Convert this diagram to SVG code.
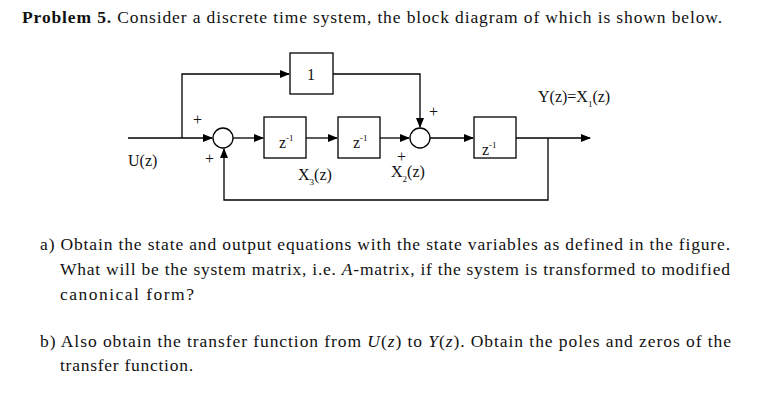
<svg xmlns="http://www.w3.org/2000/svg" width="766" height="407" viewBox="0 0 766 407">
<style>
.t{font-family:"Liberation Serif",serif;font-size:17.5px;fill:#111}
.d{font-family:"Liberation Serif",serif;font-size:16px;fill:#111}
.s{font-size:9px}
.b{fill:#fff;stroke:#000;stroke-width:1.3}
.l{fill:none;stroke:#000;stroke-width:1.3}
</style>
<defs><marker id="a" markerWidth="10" markerHeight="8" refX="9" refY="4" orient="auto" markerUnits="userSpaceOnUse"><path d="M0,0L10,4L0,8z" fill="#000"/></marker></defs>
<rect width="766" height="407" fill="#fff"/>
<text class="t" x="22" y="23" textLength="700" lengthAdjust="spacing"><tspan font-weight="bold">Problem 5.</tspan> Consider a discrete time system, the block diagram of which is shown below.</text>
<g id="connectors" class="l">
<path d="M128,138H212" marker-end="url(#a)"/>
<path d="M182,138V74H289" marker-end="url(#a)"/>
<path d="M333,74H420V127" marker-end="url(#a)"/>
<path d="M233,138H263" marker-end="url(#a)"/>
<path d="M306,138H337" marker-end="url(#a)"/>
<path d="M380,138H409" marker-end="url(#a)"/>
<path d="M430,138H473" marker-end="url(#a)"/>
<path d="M516,138H590" marker-end="url(#a)"/>
<path d="M548,138V200H224V149" marker-end="url(#a)"/>
</g>
<g id="sum1"><circle class="b" cx="223" cy="138" r="10"/></g>
<g id="sum2"><circle class="b" cx="420" cy="138" r="10"/></g>
<g id="gain"><rect class="b" x="290" y="53" width="43" height="41"/><text class="d" x="311" y="80" text-anchor="middle">1</text></g>
<g id="delay1"><rect class="b" x="264" y="117" width="42" height="41"/><text class="d" x="279" y="148">z<tspan class="s" dy="-7">-1</tspan></text></g>
<g id="delay2"><rect class="b" x="338" y="117" width="42" height="41"/><text class="d" x="353" y="148">z<tspan class="s" dy="-7">-1</tspan></text></g>
<g id="delay3"><rect class="b" x="474" y="117" width="42" height="41"/><text class="d" x="482" y="155">z<tspan class="s" dy="-7">-1</tspan></text></g>
<g class="d">
<text x="193" y="125">+</text>
<text x="205" y="164">+</text>
<text x="397" y="162">+</text>
<text x="429" y="117">+</text>
<text x="128" y="166">U(z)</text>
<text x="298" y="180">X<tspan class="s" dy="5">3</tspan><tspan dy="-5">(z)</tspan></text>
<text x="391" y="177">X<tspan class="s" dy="5">2</tspan><tspan dy="-5">(z)</tspan></text>
<text x="538" y="102">Y(z)=X<tspan class="s" dy="5">1</tspan><tspan dy="-5">(z)</tspan></text>
</g>
<text class="t" x="40" y="250" textLength="690" lengthAdjust="spacing">a) Obtain the state and output equations with the state variables as defined in the figure.</text>
<text class="t" x="60" y="275" textLength="670" lengthAdjust="spacing">What will be the system matrix, i.e. <tspan font-style="italic">A</tspan>-matrix, if the system is transformed to modified</text>
<text class="t" x="60" y="300" textLength="134" lengthAdjust="spacing">canonical form?</text>
<text class="t" x="40" y="347" textLength="691" lengthAdjust="spacing">b) Also obtain the transfer function from <tspan font-style="italic">U</tspan>(<tspan font-style="italic">z</tspan>) to <tspan font-style="italic">Y</tspan>(<tspan font-style="italic">z</tspan>). Obtain the poles and zeros of the</text>
<text class="t" x="60" y="371" textLength="133" lengthAdjust="spacing">transfer function.</text>
</svg>
